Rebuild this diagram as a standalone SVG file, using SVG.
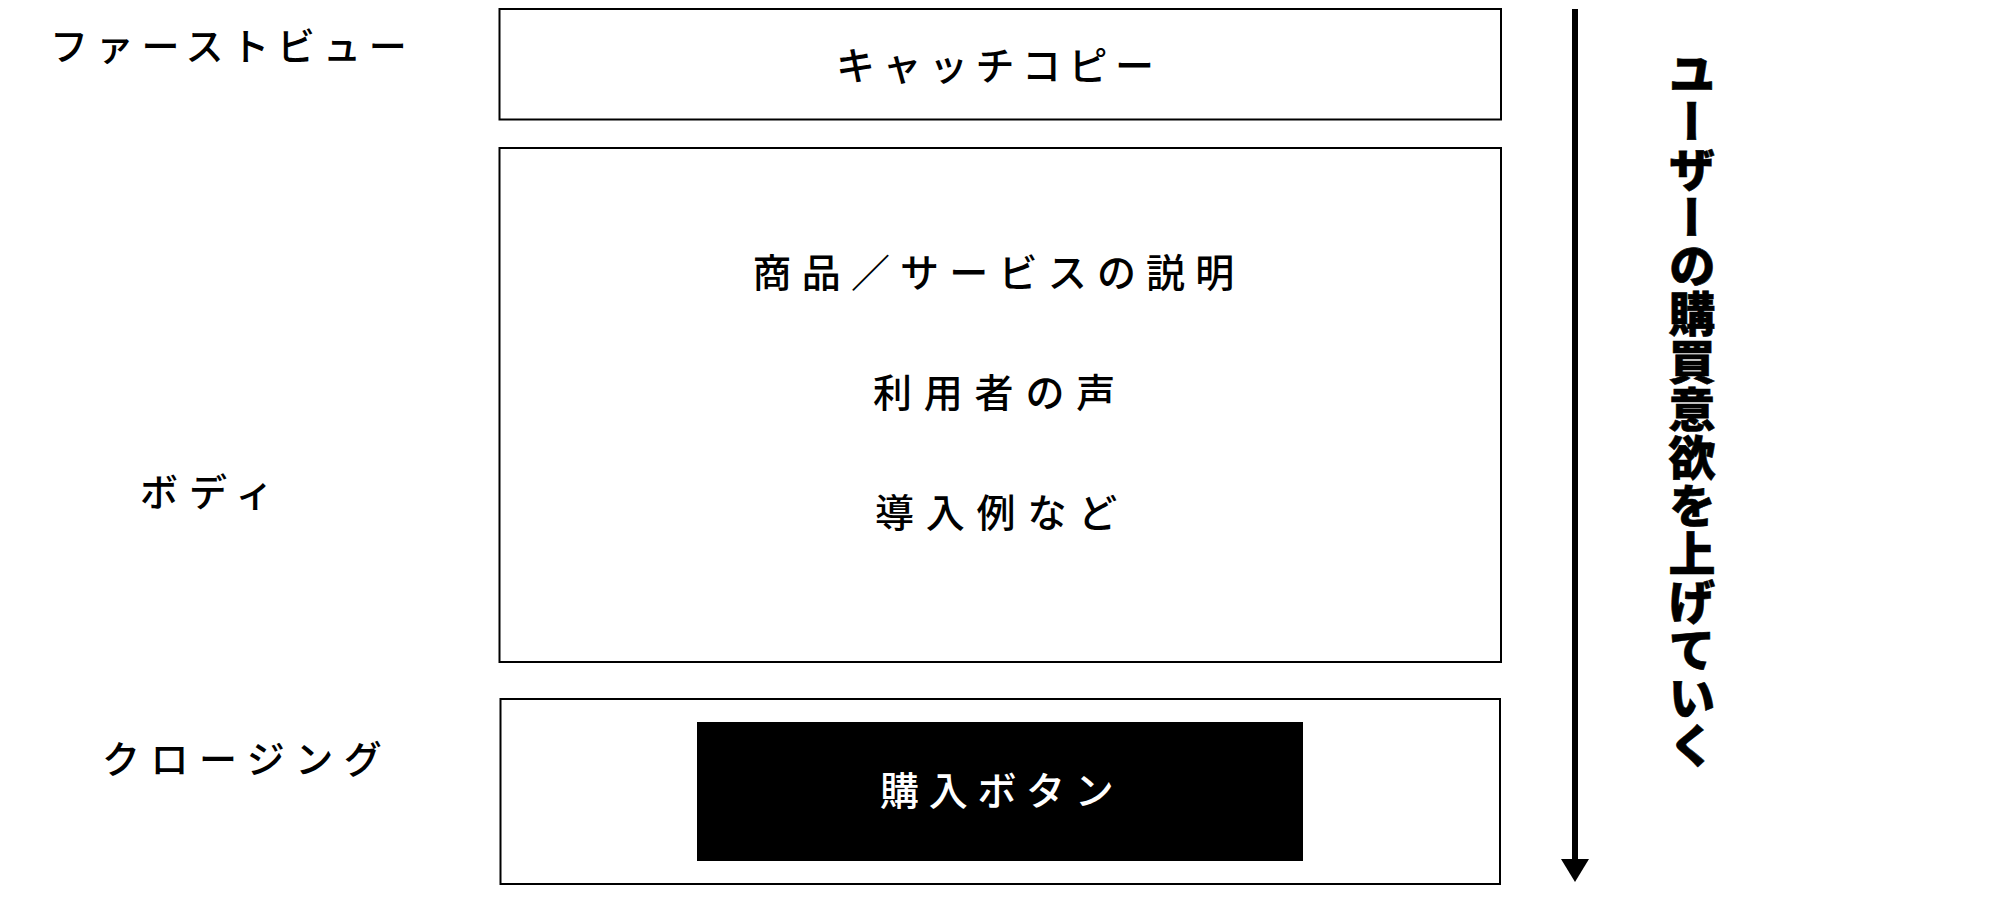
<svg xmlns="http://www.w3.org/2000/svg" width="2000" height="900" viewBox="0 0 2000 900">
<style>
.box{fill:#fff;stroke:#000;stroke-width:2}
.lbl{font-family:"Noto Sans CJK JP","Noto Sans CJK SC",sans-serif;font-size:38px;font-weight:500;fill:#000}
.in{font-family:"Noto Sans CJK JP","Noto Sans CJK SC",sans-serif;font-size:39px;font-weight:500;fill:#000}
.btn{font-family:"Noto Sans CJK JP","Noto Sans CJK SC",sans-serif;font-size:39px;font-weight:500;fill:#fff}
.vert{font-family:"Noto Sans CJK JP","Noto Sans CJK SC",sans-serif;font-size:47px;font-weight:900;fill:#000;stroke:#000;stroke-width:0.6;writing-mode:vertical-rl}
</style>
<defs>
<marker id="arrow" markerUnits="userSpaceOnUse" markerWidth="23" markerHeight="28" viewBox="0 0 23 28" refX="0" refY="14" orient="auto">
<path d="M0,0 L23,14 L0,28 z" fill="#000"/>
</marker>
</defs>
<rect width="2000" height="900" fill="#fff"/>
<g id="label-firstview"><text class="lbl" x="50" y="60" letter-spacing="7.8">ファーストビュー</text></g>
<g id="label-body"><text class="lbl" x="140" y="506" letter-spacing="11.1">ボディ</text></g>
<g id="label-closing"><text class="lbl" x="102" y="773" letter-spacing="10.5">クロージング</text></g>
<g id="node-catchcopy">
<rect class="box" x="499.5" y="9" width="1001.5" height="110.5"/>
<text class="in" x="836" y="80" letter-spacing="7.5">キャッチコピー</text>
</g>
<g id="node-body">
<rect class="box" x="499.5" y="148" width="1001.5" height="514"/>
<text class="in" x="752.5" y="287" letter-spacing="10.2">商品／サービスの説明</text>
<text class="in" x="873" y="407" letter-spacing="11.8">利用者の声</text>
<text class="in" x="875" y="527" letter-spacing="11.8">導入例など</text>
</g>
<g id="node-closing">
<rect class="box" x="500.5" y="699" width="999.5" height="185"/>
<rect x="697" y="722" width="606" height="139" fill="#000"/>
<text class="btn" x="880" y="805" letter-spacing="9.7">購入ボタン</text>
</g>
<g id="connectors">
<line x1="1575" y1="9" x2="1575" y2="859" stroke="#000" stroke-width="6" marker-end="url(#arrow)"/>
</g>
<g id="label-motivation"><text class="vert" x="1692" y="50" letter-spacing="1">ユーザーの購買意欲を上げていく</text></g>
</svg>
